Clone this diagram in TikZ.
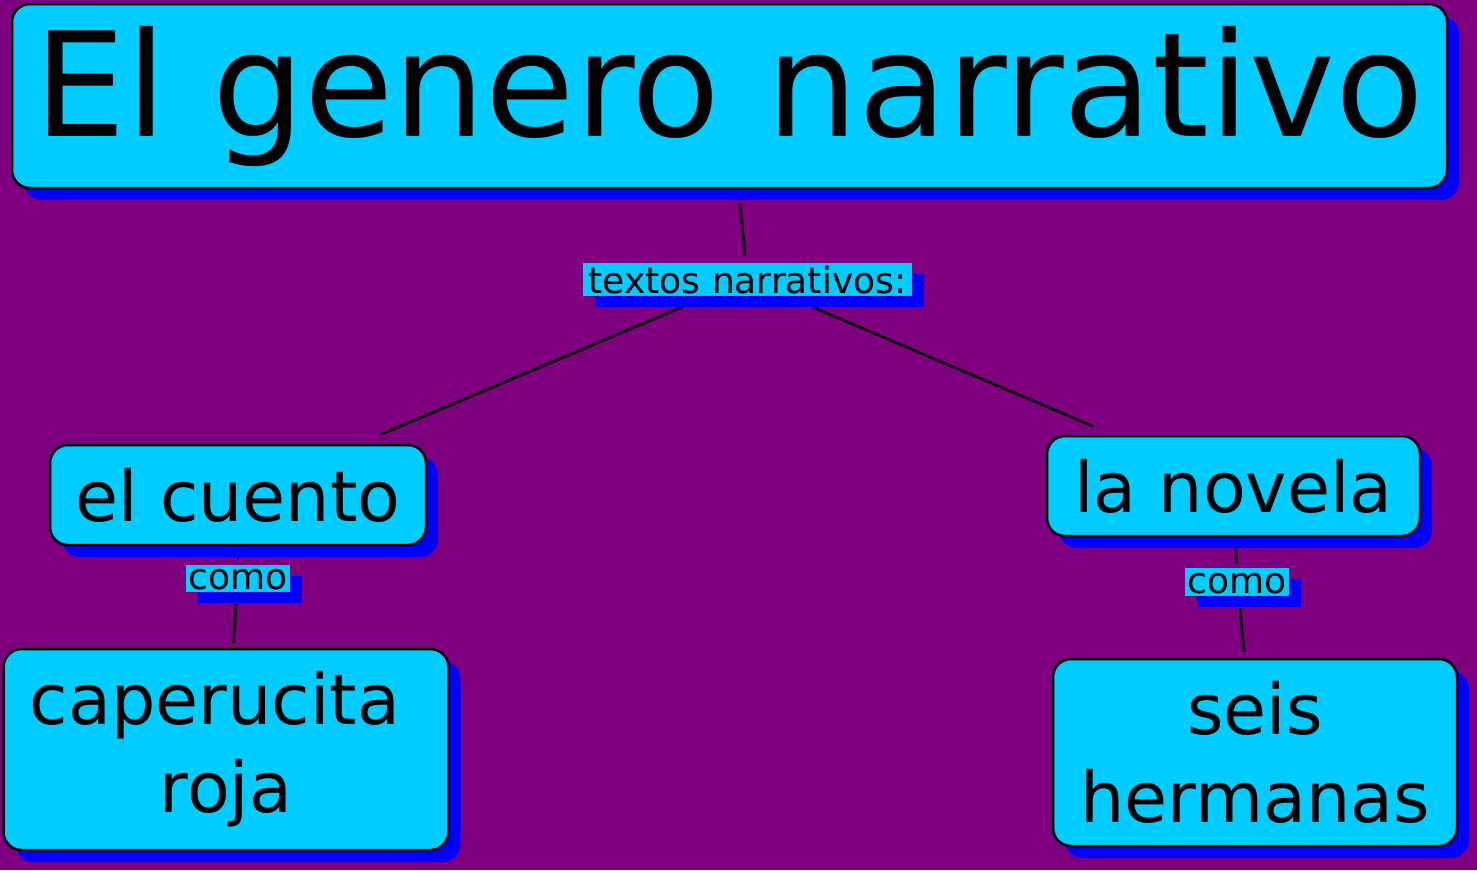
\documentclass[tikz,border=0pt]{standalone}
\usepackage{fontspec}
\setmainfont{DejaVu Sans}
\usepackage{xcolor}
\usetikzlibrary{shadows}
\definecolor{morado}{HTML}{7F007F}
\definecolor{celeste}{HTML}{00CCFF}
\definecolor{sombra}{HTML}{0000FF}
\pgfdeclarelayer{fondo}
\pgfdeclarelayer{lineas}
\pgfsetlayers{fondo,lineas,main}

\begin{document}
\begin{tikzpicture}[x=1pt,y=-1pt,
		concepto/.style={draw=black,line width=2.5pt,fill=celeste,rounded corners=18pt,
			inner sep=0pt,align=center,font=\fontsize{70}{88}\selectfont,
			drop shadow={shadow xshift=12pt,shadow yshift=-12pt,fill=sombra,opacity=1}},
		enlace/.style={fill=celeste,inner sep=0pt,font=\fontsize{36}{40}\selectfont,
			text depth=3pt,minimum width=104pt,
			drop shadow={shadow xshift=12pt,shadow yshift=-11pt,fill=sombra,opacity=1}},
		linea/.style={line width=2.5pt}]
		\useasboundingbox (0,0) rectangle (1477,870);
		\begin{pgfonlayer}{fondo}
			\fill[morado] (0,0) rectangle (1477,870);
		\end{pgfonlayer}

		\node[concepto,minimum width=1435pt,minimum height=184pt,
			font=\fontsize{145}{170}\selectfont] (G) at (729.5,96) {El genero narrativo};
		\node[enlace,minimum width=329pt,text height=30pt] (T) at (747.5,279.5) {textos narrativos:};

		\node[concepto,minimum width=376pt,minimum height=100pt] (C) at (238,495) {el cuento};
		\node[concepto,minimum width=373pt,minimum height=100pt] (N) at (1233.5,486) {la novela};

		\node[enlace,text height=24pt] (c1) at (238,578.5) {como};
		\node[enlace,text height=25pt] (c2) at (1237,582) {como};

		\node[concepto,minimum width=445pt,minimum height=201pt] (P) at (226,749.5) {caperucita\hspace*{22pt}\\roja};
		\node[concepto,minimum width=404pt,minimum height=187pt] (S) at (1255,752.5) {seis\\hermanas};

		\begin{pgfonlayer}{lineas}
			\draw[linea,shorten <=14pt,shorten >=7pt] (G) -- (T);
			\draw[linea,shorten <=28pt,shorten >=24pt] (T) -- (C);
			\draw[linea,shorten <=29pt,shorten >=21pt] (T) -- (N);
			\draw[linea,shorten <=10pt,shorten >=5pt] (C) -- (c1);
			\draw[linea,shorten <=12pt,shorten >=5pt] (c1) -- (P);
			\draw[linea,shorten <=12pt,shorten >=5pt] (N) -- (c2);
			\draw[linea,shorten <=12pt,shorten >=6pt] (c2) -- (S);
		\end{pgfonlayer}
	\end{tikzpicture}
\end{document}
